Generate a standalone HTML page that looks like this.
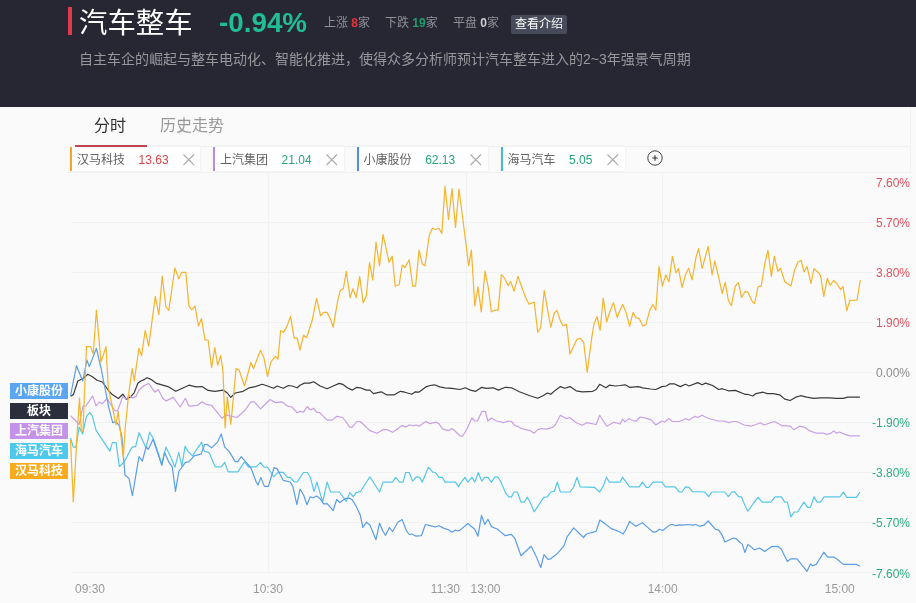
<!DOCTYPE html>
<html lang="zh-CN"><head><meta charset="utf-8"><title>汽车整车</title>
<style>
html,body{margin:0;padding:0}
body{width:916px;height:603px;overflow:hidden;background:#fafafa;font-family:"Liberation Sans","Noto Sans CJK SC",sans-serif;position:relative}
.hd{position:absolute;left:0;top:0;width:916px;height:107px;background:#262733}
.bar{position:absolute;left:68px;top:7px;width:4px;height:28px;background:#e0394a}
.title{position:absolute;left:79px;top:2px;font-size:28.4px;line-height:42px;color:#fff;white-space:nowrap}
.pct{position:absolute;left:219px;top:2px;font-size:28.5px;line-height:40px;color:#20be94;white-space:nowrap;font-weight:bold;transform:scaleX(.975);transform-origin:0 0}
.st{position:absolute;top:14px;font-size:12px;line-height:18px;color:#8f8f96;white-space:nowrap}
.btn{position:absolute;left:511px;top:15px;width:56px;height:19px;background:#474a59;color:#fff;font-size:12px;line-height:19px;text-align:center;border-radius:2px}
.desc{position:absolute;left:79px;top:50px;font-size:14px;line-height:18px;color:#97979c;white-space:nowrap}
.tab{position:absolute;top:114px;font-size:16px;line-height:24px;white-space:nowrap}
.tline{position:absolute;left:70px;top:146px;width:840px;z-index:2;height:1px;background:#f0f0f0}
.tcur{z-index:3;position:absolute;left:75px;top:145px;width:72px;height:2px;background:#c0424c}
.chip{position:absolute;top:146px;height:24.5px;background:#fff;border-left:2px solid #000;box-shadow:0 0 2px rgba(0,0,0,.08);font-size:12px;line-height:22px;white-space:nowrap}
.cn{position:absolute;left:5px;top:3px;color:#626262}
.cp{position:absolute;left:66.6px;top:3px}
.cx{position:absolute;top:8px}
.plus{position:absolute;left:646.3px;top:149.3px}
.tag{position:absolute;left:10px;width:58px;height:16px;color:#fff;font-size:12px;line-height:16px;text-align:center;font-weight:bold;white-space:nowrap}
.chart{position:absolute;left:0;top:0}
</style></head><body>
<svg class="chart" width="916" height="603" viewBox="0 0 916 603">
<g shape-rendering="crispEdges"><line x1="71" y1="222.5" x2="873" y2="222.5" stroke="#f2f2f2" stroke-width="1"/><line x1="71" y1="272.5" x2="873" y2="272.5" stroke="#f2f2f2" stroke-width="1"/><line x1="71" y1="322.5" x2="873" y2="322.5" stroke="#f2f2f2" stroke-width="1"/><line x1="71" y1="372.5" x2="873" y2="372.5" stroke="#f2f2f2" stroke-width="1"/><line x1="71" y1="422.5" x2="873" y2="422.5" stroke="#f2f2f2" stroke-width="1"/><line x1="71" y1="472.5" x2="873" y2="472.5" stroke="#f2f2f2" stroke-width="1"/><line x1="71" y1="522.5" x2="873" y2="522.5" stroke="#f2f2f2" stroke-width="1"/><line x1="71" y1="572.5" x2="873" y2="572.5" stroke="#f2f2f2" stroke-width="1"/><line x1="68" y1="172.5" x2="910" y2="172.5" stroke="#f2f2f2" stroke-width="1"/><line x1="910.5" y1="107" x2="910.5" y2="173" stroke="#f2f2f2" stroke-width="1"/><line x1="268.5" y1="172" x2="268.5" y2="573" stroke="#f1f1f1" stroke-width="1"/><line x1="466.5" y1="172" x2="466.5" y2="573" stroke="#f1f1f1" stroke-width="1"/><line x1="662.5" y1="172" x2="662.5" y2="573" stroke="#f1f1f1" stroke-width="1"/></g>
<g font-family="Liberation Sans, Arial, sans-serif" font-size="12"><text x="910" y="186.8" text-anchor="end" fill="#e4505a">7.60%</text><text x="910" y="226.8" text-anchor="end" fill="#e4505a">5.70%</text><text x="910" y="276.8" text-anchor="end" fill="#e4505a">3.80%</text><text x="910" y="326.8" text-anchor="end" fill="#e4505a">1.90%</text><text x="910" y="376.8" text-anchor="end" fill="#8e8e8e">0.00%</text><text x="910" y="426.8" text-anchor="end" fill="#2aae7c">-1.90%</text><text x="910" y="476.8" text-anchor="end" fill="#2aae7c">-3.80%</text><text x="910" y="526.8" text-anchor="end" fill="#2aae7c">-5.70%</text><text x="910" y="577.8" text-anchor="end" fill="#2aae7c">-7.60%</text><text x="75" y="593" fill="#999">09:30</text><text x="268" y="593" text-anchor="middle" fill="#999">10:30</text><text x="460" y="593" text-anchor="end" fill="#999">11:30</text><text x="470.5" y="593" fill="#999">13:00</text><text x="662.7" y="593" text-anchor="middle" fill="#999">14:00</text><text x="854.8" y="593" text-anchor="end" fill="#999">15:00</text></g>
<polyline points="70.5,396.2 73.4,394.6 77.8,381.0 83.2,378.5 87.8,374.3 92.4,376.7 97.0,380.3 102.4,382.0 108.8,391.0 112.3,394.6 118.4,398.5 122.8,394.2 126.3,399.4 130.6,396.8 134.1,392.9 138.0,383.0 140.0,381.5 143.5,379.9 147.0,377.8 150.5,379.1 156.6,383.4 167.9,386.6 175.8,391.3 188.9,385.2 195.9,386.9 202.0,386.6 208.1,390.4 215.1,391.3 223.0,390.1 227.3,393.0 230.8,397.4 235.2,393.0 243.1,391.3 249.2,387.8 255.3,386.6 262.3,384.3 267.5,386.0 273.6,388.3 277.1,386.0 283.2,388.3 288.5,385.5 292.0,386.0 297.2,387.8 300.0,385.2 304.4,383.1 309.6,383.1 313.6,381.7 320.1,386.0 327.1,388.7 333.2,386.0 339.3,383.4 342.8,384.3 347.2,387.8 352.4,390.1 356.8,387.3 360.3,387.8 366.4,390.1 369.9,390.1 373.4,393.6 381.2,391.8 386.5,394.8 394.3,394.8 400.4,391.3 404.8,392.2 411.8,394.3 415.3,391.8 418.8,392.2 425.8,386.9 430.1,385.5 434.5,384.8 439.7,386.9 445.0,387.8 452.0,388.3 460.0,389.5 465.2,387.8 470.5,390.1 475.7,391.3 481.8,387.3 486.2,388.3 493.2,387.8 498.4,390.1 505.4,387.3 511.5,387.8 519.4,391.8 529.9,395.7 537.7,398.3 543.0,395.7 547.3,393.0 550.8,394.3 555.2,390.4 560.4,386.6 564.8,388.3 570.0,386.6 576.2,390.8 582.3,391.8 592.8,391.3 596.2,389.5 599.7,384.3 605.9,387.8 609.3,385.2 615.5,386.0 620.0,385.5 625.2,384.8 629.6,387.3 638.3,386.6 642.7,387.8 650.6,389.0 655.8,389.5 661.9,386.6 666.3,386.0 669.8,383.8 674.1,383.8 680.3,386.6 685.5,384.3 689.0,386.0 697.7,382.6 702.1,384.8 705.6,383.1 712.6,385.5 718.7,389.5 722.2,388.7 728.3,390.8 735.3,390.4 744.9,394.3 747.5,394.3 752.8,396.0 756.0,393.6 763.0,392.2 767.4,393.6 773.5,393.6 779.6,394.8 784.8,399.1 790.1,400.5 795.3,397.4 800.5,395.7 806.7,397.1 813.6,398.3 820.6,397.8 829.4,397.8 836.3,398.3 843.3,398.3 847.7,397.1 859.9,397.1" fill="none" stroke="#3a3a3a" stroke-width="1.2" stroke-linejoin="round"/><polyline points="70.5,415.6 75.0,420.0 79.1,424.7 83.0,406.4 86.0,406.0 92.6,395.9 96.1,406.0 99.2,402.0 102.2,403.8 107.0,398.5 114.5,410.3 117.5,411.2 122.8,396.4 126.3,399.0 129.0,395.5 132.4,398.1 136.0,396.4 139.0,390.0 143.5,386.0 148.7,383.4 154.8,392.2 158.3,389.5 162.7,398.3 166.2,400.9 173.2,397.4 180.2,407.0 185.4,398.3 188.9,406.1 197.6,405.3 202.0,401.8 206.4,404.4 211.6,405.3 222.1,418.4 225.6,414.9 236.9,417.5 244.8,410.5 250.9,401.8 254.4,401.8 260.5,408.8 270.1,399.5 275.4,402.6 281.5,401.8 287.6,406.1 292.0,407.0 297.2,412.8 300.0,411.4 303.5,412.2 307.3,406.5 310.5,410.0 313.6,408.2 316.6,412.2 320.1,412.8 327.1,420.1 332.3,420.1 336.7,416.3 342.8,417.5 349.8,427.1 352.4,427.1 356.8,421.5 360.3,421.5 369.9,430.6 376.9,433.2 383.0,429.7 387.3,429.7 392.6,432.3 397.8,428.8 402.2,425.3 405.7,427.1 409.2,425.0 413.5,425.7 416.2,425.0 418.8,426.2 425.8,421.5 430.1,423.6 436.2,422.2 438.9,423.6 442.4,428.8 448.5,430.6 452.0,428.5 455.5,431.5 460.0,435.8 462.6,436.2 467.0,428.8 471.9,418.0 474.8,421.0 477.5,421.0 481.8,411.4 485.3,411.4 487.9,421.0 491.4,418.0 496.7,421.0 503.7,422.7 508.0,421.0 511.5,421.5 515.0,425.7 517.6,426.2 521.1,428.5 529.9,430.6 534.2,433.2 537.7,429.7 542.1,428.5 546.5,429.2 552.6,427.4 555.2,425.0 560.4,415.2 566.6,418.7 569.7,417.5 576.2,422.7 582.3,425.3 586.6,422.7 596.2,424.5 599.7,415.2 606.7,426.2 613.7,422.2 620.0,424.0 622.6,419.2 624.9,421.9 628.7,418.7 635.7,421.5 640.1,417.0 647.1,418.4 651.4,420.1 655.8,425.0 661.9,421.0 664.5,422.2 668.9,418.4 672.4,421.5 679.4,421.5 685.5,418.7 689.0,420.1 695.1,416.3 697.7,417.5 702.1,415.2 707.3,418.0 717.8,421.0 723.1,421.0 729.2,422.7 732.7,421.5 737.0,421.5 744.0,425.0 751.0,426.2 756.0,424.5 760.4,422.7 763.9,425.0 774.3,421.5 782.2,425.7 790.1,426.2 793.6,429.7 799.7,426.2 804.0,427.1 810.1,430.9 816.3,433.2 823.2,433.2 826.7,434.4 830.2,433.7 833.7,430.9 836.7,433.2 839.5,432.0 845.1,434.4 850.3,435.8 859.9,435.8" fill="none" stroke="#c9a0e6" stroke-width="1.2" stroke-linejoin="round"/><polyline points="70.5,438.0 73.3,447.2 76.0,447.2 79.1,427.0 82.6,434.0 86.5,416.4 89.6,412.5 92.2,415.6 96.1,430.4 109.8,451.2 112.4,442.6 116.1,442.6 119.3,466.5 124.4,461.8 129.7,451.2 132.3,447.2 135.6,446.6 139.0,432.7 146.1,447.9 149.6,432.2 153.1,438.3 158.3,453.2 161.8,464.5 165.9,447.1 170.6,456.7 174.9,467.2 178.8,452.3 181.9,466.3 185.1,446.2 188.0,451.4 192.4,455.8 201.5,442.4 204.3,451.4 209.0,452.3 215.1,466.8 221.2,466.8 224.7,462.3 228.2,471.9 237.8,471.9 244.5,461.9 248.3,466.8 256.2,466.8 260.5,462.3 264.0,467.2 267.5,467.2 273.6,476.8 278.0,472.4 283.2,472.4 287.6,477.3 290.2,477.3 294.6,482.0 297.2,482.0 300.0,477.7 303.5,472.5 307.3,472.5 310.5,477.7 314.0,491.7 316.9,482.1 322.7,502.2 327.1,482.1 330.6,492.0 339.3,492.0 346.3,501.3 349.8,492.6 353.3,496.6 356.2,492.6 360.3,491.7 369.9,476.8 379.5,492.0 383.0,482.1 392.6,482.1 395.7,477.4 399.6,482.1 403.1,482.1 405.7,472.5 409.2,472.5 412.7,481.2 416.2,476.8 419.7,477.4 422.3,482.1 428.4,467.2 432.8,472.1 435.4,472.5 438.9,477.4 442.4,477.4 445.0,482.1 455.5,482.1 458.6,486.8 460.0,483.8 464.9,477.4 467.9,482.1 471.9,477.4 474.8,482.1 478.3,472.5 481.8,481.2 484.5,477.4 487.9,477.4 491.4,482.1 494.9,476.8 497.6,476.8 501.0,482.1 505.8,493.4 508.9,496.9 511.5,496.9 514.1,492.0 517.3,492.0 521.1,502.2 524.3,502.2 527.2,497.3 529.9,501.8 534.2,511.8 543.8,497.3 547.3,496.9 550.8,492.0 554.3,491.3 557.3,482.1 560.4,492.0 570.0,492.0 573.5,487.3 577.0,477.4 580.2,486.8 594.5,487.3 599.7,492.0 603.2,486.4 606.4,477.4 609.3,482.1 620.0,482.1 622.6,477.4 629.6,486.8 639.2,486.8 642.4,482.1 646.2,487.3 648.8,487.3 653.2,482.1 661.9,482.1 665.4,486.8 675.0,486.8 679.4,492.0 682.0,492.0 685.5,486.8 689.0,487.3 692.5,491.7 704.7,492.0 708.7,496.6 711.7,492.0 724.8,492.0 728.3,496.6 731.8,492.0 734.4,491.7 738.8,496.9 741.4,496.9 745.4,506.5 747.9,511.2 753.6,503.0 758.1,497.4 762.1,502.1 770.8,502.1 774.9,496.8 781.3,496.8 784.8,502.1 787.4,502.1 790.9,516.9 794.1,512.0 797.6,512.0 804.0,502.1 807.5,507.3 810.5,507.3 814.0,496.8 817.1,502.1 820.3,502.1 824.1,496.8 839.8,496.8 843.3,492.1 846.8,497.4 856.4,497.4 859.9,492.1" fill="none" stroke="#56c8e6" stroke-width="1.2" stroke-linejoin="round"/><polyline points="70.5,395.8 76.5,365.7 82.7,381.0 86.9,360.0 89.3,366.6 96.4,348.4 101.0,368.0 104.4,385.0 108.8,407.7 112.7,422.6 116.2,421.7 119.3,426.0 121.9,437.0 125.0,475.0 129.0,478.4 132.4,495.7 139.0,456.5 142.3,461.2 146.1,447.0 148.3,449.3 153.1,439.2 161.8,465.4 164.5,452.3 168.8,461.9 172.3,467.2 175.5,491.3 178.8,471.5 185.4,462.3 188.9,461.9 194.1,455.8 201.1,454.1 204.6,444.5 207.2,444.5 211.6,447.9 217.7,441.8 221.2,434.0 224.7,447.1 229.1,451.4 235.2,461.6 237.8,461.6 241.3,456.7 246.6,462.8 250.9,468.0 256.2,482.0 257.9,485.0 260.9,477.6 264.4,486.4 268.4,486.4 274.1,467.5 277.1,468.9 283.2,480.3 290.2,482.0 292.8,486.4 296.9,504.7 300.0,489.1 303.5,494.8 307.0,504.8 310.1,496.9 313.1,497.8 316.6,496.0 320.1,498.7 323.6,503.9 327.1,503.6 333.2,510.5 336.7,499.5 339.8,502.5 345.8,498.3 349.8,498.3 352.4,500.1 355.9,505.7 360.3,515.3 362.9,527.5 366.4,522.2 369.9,524.9 376.0,539.7 379.5,523.1 383.0,531.5 385.6,535.3 389.4,527.5 392.6,531.5 397.8,522.2 402.2,519.6 406.6,531.0 409.2,534.5 411.8,534.0 416.2,536.2 421.4,535.7 425.4,524.5 430.1,525.7 435.4,527.0 438.9,525.7 444.1,528.4 448.5,529.8 452.0,532.2 455.5,530.1 458.1,531.0 460.0,530.1 467.9,523.5 471.4,526.6 474.8,529.2 478.0,536.2 481.5,515.3 484.8,524.5 487.9,519.3 491.4,526.6 497.6,529.2 500.0,531.4 505.2,535.7 511.4,534.3 514.8,538.3 521.0,555.8 531.1,546.2 536.7,557.6 540.7,567.5 544.0,554.6 548.0,559.3 550.7,558.8 556.8,554.1 563.8,546.2 567.2,536.6 573.7,527.9 583.5,537.5 586.5,534.0 596.1,531.4 599.9,520.0 604.8,523.5 610.9,528.4 620.5,532.2 623.1,534.0 626.1,529.2 629.6,521.4 635.7,526.3 642.4,522.8 648.8,528.4 653.2,532.2 655.8,531.9 659.3,529.2 662.8,530.5 669.8,524.9 672.4,524.5 675.9,525.7 679.4,524.9 682.9,525.2 687.2,524.5 693.4,525.2 696.0,524.5 699.5,526.3 703.8,525.2 708.2,521.0 715.2,529.2 718.7,530.1 722.2,535.3 724.8,542.0 733.5,538.0 736.2,538.8 742.3,544.4 744.9,552.5 747.9,544.4 754.5,549.7 759.5,548.0 764.7,551.5 771.7,546.6 777.8,546.3 781.3,549.2 787.4,561.5 790.9,558.8 797.0,558.8 807.0,571.4 810.5,564.1 812.8,565.8 816.3,564.4 823.8,552.2 827.6,557.1 833.7,557.1 837.2,559.2 843.3,564.4 856.4,564.4 859.9,566.2" fill="none" stroke="#5b9ee6" stroke-width="1.2" stroke-linejoin="round"/><polyline points="70.5,440.0 73.3,502.0 77.3,430.0 79.5,398.0 81.4,432.0 83.0,431.0 84.8,385.0 86.5,346.6 90.5,346.6 93.3,354.0 96.4,310.0 101.0,362.0 106.0,346.6 108.3,388.0 112.0,405.0 116.0,425.0 118.2,411.5 123.3,458.0 125.0,430.0 128.9,392.0 132.2,368.5 134.3,381.0 138.9,348.4 141.6,355.7 145.2,330.3 148.7,346.1 155.3,296.4 158.9,314.6 162.2,276.2 165.9,306.8 168.8,310.3 174.9,268.0 178.8,278.8 181.6,272.4 185.8,272.4 188.9,305.9 191.9,309.9 195.0,305.9 198.5,326.0 201.5,318.6 205.0,340.0 208.1,340.0 211.6,367.7 214.8,347.6 217.7,365.1 220.7,355.5 223.0,371.2 225.1,428.0 227.3,397.4 230.8,424.5 236.1,368.6 239.2,370.3 244.5,386.0 250.9,362.5 253.5,368.6 260.5,350.2 264.0,358.1 267.5,376.4 271.0,361.6 275.4,356.4 278.0,359.0 280.6,330.7 283.6,332.1 286.7,326.9 290.6,316.4 294.1,338.2 297.2,338.2 300.0,350.0 303.5,335.1 306.6,337.7 312.2,320.3 316.6,298.4 320.6,315.9 323.6,312.4 327.1,312.4 330.6,319.4 333.2,327.2 337.6,301.0 340.2,290.6 343.3,288.8 346.3,271.4 350.1,297.6 352.9,288.8 356.2,297.6 359.7,276.6 363.2,302.8 366.4,295.8 369.5,262.6 372.8,280.1 376.0,242.2 379.5,265.8 383.0,234.4 389.1,262.3 392.2,256.2 395.2,286.2 399.2,284.5 402.2,265.0 404.8,267.6 409.2,259.7 412.7,286.2 415.6,286.2 419.1,250.1 422.3,264.1 424.9,265.8 429.3,235.3 432.4,228.3 435.4,229.5 438.9,228.3 441.8,233.5 445.0,186.4 448.5,219.5 452.0,188.6 455.5,227.4 459.0,189.0 468.7,265.8 471.4,250.1 474.8,306.0 478.0,286.8 481.3,311.8 485.0,271.1 488.3,287.7 491.4,311.8 494.9,310.1 498.1,310.1 501.4,274.6 504.5,278.1 508.0,285.6 510.7,281.6 514.1,291.2 518.0,276.4 522.0,287.7 525.5,297.3 529.0,304.3 534.2,302.0 537.7,332.2 540.7,327.9 544.2,290.3 547.3,307.8 550.8,327.0 554.3,313.0 556.9,310.4 560.4,320.9 563.1,325.8 566.6,324.4 570.0,354.1 573.2,347.1 577.0,339.2 580.5,338.4 583.7,342.7 587.2,372.4 591.9,336.6 594.1,323.5 597.1,316.5 600.1,330.5 603.2,298.2 606.7,321.8 610.2,310.8 613.4,302.6 617.2,317.4 620.0,310.6 622.6,304.5 626.1,312.3 629.6,326.3 633.1,312.3 635.7,317.6 639.2,318.4 642.7,326.0 645.9,324.6 649.7,310.6 652.8,304.5 655.8,310.2 659.0,266.6 662.4,286.1 665.8,274.8 668.9,281.8 672.4,256.4 675.9,273.0 678.5,268.7 682.0,287.5 685.5,274.8 688.6,268.3 692.1,280.0 696.0,257.3 698.6,248.6 702.1,268.3 708.2,246.3 712.1,274.8 714.8,260.8 718.7,277.4 722.2,293.5 725.2,282.3 728.3,300.1 731.3,305.7 735.3,286.1 738.4,282.6 741.7,297.5 744.9,291.7 747.9,292.2 751.9,301.0 754.5,303.6 758.1,286.5 761.2,286.1 764.7,264.3 767.9,250.3 771.4,276.5 774.3,256.4 777.8,271.3 780.5,268.3 784.8,281.8 790.9,286.1 794.4,270.8 797.9,262.0 801.1,260.3 804.0,271.8 807.0,266.6 811.0,283.5 814.0,268.7 818.0,272.2 820.6,275.7 823.8,296.3 827.3,278.3 830.2,285.3 833.7,280.5 837.2,284.0 840.7,289.6 843.0,286.5 846.8,310.6 849.8,300.5 857.0,300.1 860.3,280.0" fill="none" stroke="#f5b42c" stroke-width="1.2" stroke-linejoin="round"/>
</svg>
<div class="hd">
<div class="bar"></div>
<div class="title">汽车整车</div>
<div class="pct">-0.94%</div>
<div class="st" style="left:324px">上涨 <b style="color:#e8323c">8</b>家</div>
<div class="st" style="left:385px">下跌 <b style="color:#1f9d6b">19</b>家</div>
<div class="st" style="left:453px">平盘 <b style="color:#d0d0d0">0</b>家</div>
<div class="btn">查看介绍</div>
<div class="desc">自主车企的崛起与整车电动化、智能化推进，使得众多分析师预计汽车整车进入的2~3年强景气周期</div>
</div>
<div class="tab" style="left:94px;color:#333">分时</div>
<div class="tab" style="left:160px;color:#999">历史走势</div>
<div class="tline"></div><div class="tcur"></div>
<div class="chip" style="left:70px;width:128px;border-left-color:#f5a623"><span class="cn">汉马科技</span><span class="cp" style="color:#d9434a">13.63</span><svg class="cx" style="left:110.5px" width="12" height="12" viewBox="0 0 12 12"><path d="M0.5 0.5L11 11M11 0.5L0.5 11" stroke="#aaa" stroke-width="1.1" fill="none"/></svg></div><div class="chip" style="left:213px;width:129px;border-left-color:#b78be0"><span class="cn">上汽集团</span><span class="cp" style="color:#27a57a">21.04</span><svg class="cx" style="left:110.5px" width="12" height="12" viewBox="0 0 12 12"><path d="M0.5 0.5L11 11M11 0.5L0.5 11" stroke="#aaa" stroke-width="1.1" fill="none"/></svg></div><div class="chip" style="left:356.6px;width:129.5px;border-left-color:#4a8fe0"><span class="cn">小康股份</span><span class="cp" style="color:#27a57a">62.13</span><svg class="cx" style="left:111px" width="12" height="12" viewBox="0 0 12 12"><path d="M0.5 0.5L11 11M11 0.5L0.5 11" stroke="#aaa" stroke-width="1.1" fill="none"/></svg></div><div class="chip" style="left:500.5px;width:122.5px;border-left-color:#45b8d8"><span class="cn">海马汽车</span><span class="cp" style="color:#27a57a">5.05</span><svg class="cx" style="left:104.5px" width="12" height="12" viewBox="0 0 12 12"><path d="M0.5 0.5L11 11M11 0.5L0.5 11" stroke="#aaa" stroke-width="1.1" fill="none"/></svg></div>
<svg class="plus" width="18" height="18" viewBox="0 0 18 18"><circle cx="9" cy="9" r="7.2" fill="none" stroke="#444" stroke-width="1"/><path d="M6.3 9H11.7M9 6.3V11.7" stroke="#333" stroke-width="1.1" fill="none"/></svg>
<div class="tag" style="top:383px;background:#5aa6f2">小康股份</div><div class="tag" style="top:403px;background:#2b2e3d">板块</div><div class="tag" style="top:423px;background:#c592ea">上汽集团</div><div class="tag" style="top:443px;background:#4ec9ec">海马汽车</div><div class="tag" style="top:463px;background:#f9ab1c">汉马科技</div>
</body></html>
